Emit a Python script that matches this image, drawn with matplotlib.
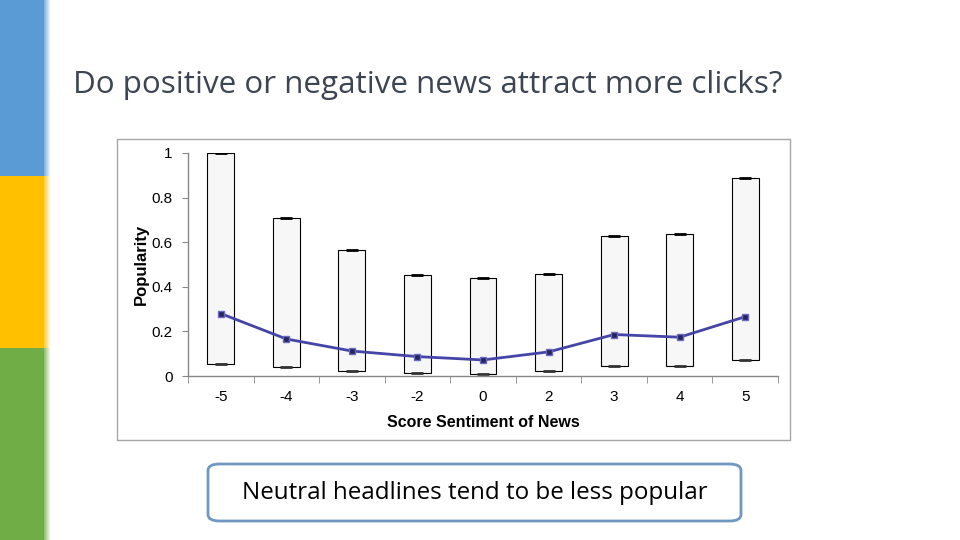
import matplotlib
matplotlib.use("Agg")
import matplotlib.pyplot as plt
from matplotlib.patches import Rectangle, FancyBboxPatch
import numpy as np

categories = ["-5", "-4", "-3", "-2", "0", "2", "3", "4", "5"]
high_values = [1.00, 0.708, 0.564, 0.452, 0.439, 0.457, 0.627, 0.636, 0.888]
low_values = [0.052, 0.039, 0.021, 0.015, 0.008, 0.021, 0.045, 0.046, 0.073]
mean_values = [0.280, 0.166, 0.112, 0.087, 0.072, 0.108, 0.186, 0.174, 0.266]
y_ticks = [0, 0.2, 0.4, 0.6, 0.8, 1]
y_tick_labels = ["0", "0.2", "0.4", "0.6", "0.8", "1"]

title = "Do positive or negative news attract more clicks?"
caption = "Neutral headlines tend to be less popular"

W, H = 960, 540
fig = plt.figure(figsize=(W / 100, H / 100), dpi=100)
fig.patch.set_facecolor("white")

def fx(px):
    return px / W

def fy(py):
    return 1 - py / H

# Left colour stripes
stripes = [(0, 176, "#5b9bd5"), (176, 348, "#ffc000"), (348, 540, "#70ad47")]
for y0, y1, col in stripes:
    fig.patches.append(Rectangle((0, fy(y1)), fx(44), (y1 - y0) / H,
                                 transform=fig.transFigure, facecolor=col,
                                 edgecolor="none", zorder=0))
    for i in range(6):
        fig.patches.append(Rectangle((fx(44 + i), fy(y1)), fx(1), (y1 - y0) / H,
                                     transform=fig.transFigure, facecolor=col,
                                     alpha=0.75 - i * 0.12, edgecolor="none", zorder=0))

# Title
fig.text(fx(73), fy(85), title, fontsize=22.6, color="#3d4552",
         family=["Open Sans", "DejaVu Sans"], va="center", ha="left")

# Chart frame
fig.patches.append(Rectangle((fx(117), fy(440)), fx(790 - 117), (440 - 139) / H,
                             transform=fig.transFigure, facecolor="white",
                             edgecolor="#a6a6a6", linewidth=1.0, zorder=1))

# Plot axes
ax = fig.add_axes([fx(188), fy(376), fx(778 - 188), (376 - 153) / H], zorder=2)
ax.patch.set_alpha(0)
x = np.arange(len(categories))

ax.bar(x, np.array(high_values) - np.array(low_values), bottom=low_values, width=0.41,
       facecolor="#f7f7f7", edgecolor="black", linewidth=0.8, zorder=2)
ax.plot(x, high_values, linestyle="none", marker="_", markersize=8, mew=2,
        color="black", zorder=3)
ax.plot(x, low_values, linestyle="none", marker="_", markersize=8, mew=2,
        color="#333333", zorder=3)
ax.plot(x, mean_values, color="#4545a8", linewidth=2, marker="s", markersize=4.5,
        markerfacecolor="#25255e", markeredgecolor="#6a6ac0", zorder=4)

ax.set_xlim(-0.5, len(categories) - 0.5)
ax.set_ylim(0, 1.0)
ax.set_xticks(x)
ax.set_xticklabels(categories)
ax.set_xticks(np.arange(-0.5, len(categories), 1.0), minor=True)
ax.tick_params(axis="x", which="major", length=0, pad=10, labelsize=11)
ax.tick_params(axis="x", which="minor", length=5, color="#888888", direction="out")
ax.set_yticks(y_ticks)
ax.set_yticklabels(y_tick_labels)
ax.tick_params(axis="y", length=4, direction="out", color="#888888", pad=7, labelsize=11)
for lab in ax.get_xticklabels() + ax.get_yticklabels():
    lab.set_family(["Liberation Sans", "DejaVu Sans"])
for s in ["top", "right"]:
    ax.spines[s].set_visible(False)
for s in ["bottom", "left"]:
    ax.spines[s].set_color("#888888")
    ax.spines[s].set_linewidth(1.0)
    ax.spines[s].set_zorder(5)

ax.set_ylabel("Popularity", fontsize=12, fontweight="bold",
              family=["Liberation Sans", "DejaVu Sans"], labelpad=2)
ax.set_xlabel("Score Sentiment of News", fontsize=11.5, fontweight="bold",
              family=["Liberation Sans", "DejaVu Sans"], labelpad=8)

# Caption box
box = FancyBboxPatch((fx(208), fy(521)), fx(741 - 208), (521 - 464) / H,
                     boxstyle="round,pad=0,rounding_size=0.012",
                     transform=fig.transFigure, facecolor="white",
                     edgecolor="#6f97c0", linewidth=2, zorder=1)
fig.patches.append(box)
fig.text(fx(475), fy(493), caption, fontsize=17.4, color="black",
         family=["Open Sans", "DejaVu Sans"], va="center", ha="center")

fig.savefig("out.png", dpi=100)
